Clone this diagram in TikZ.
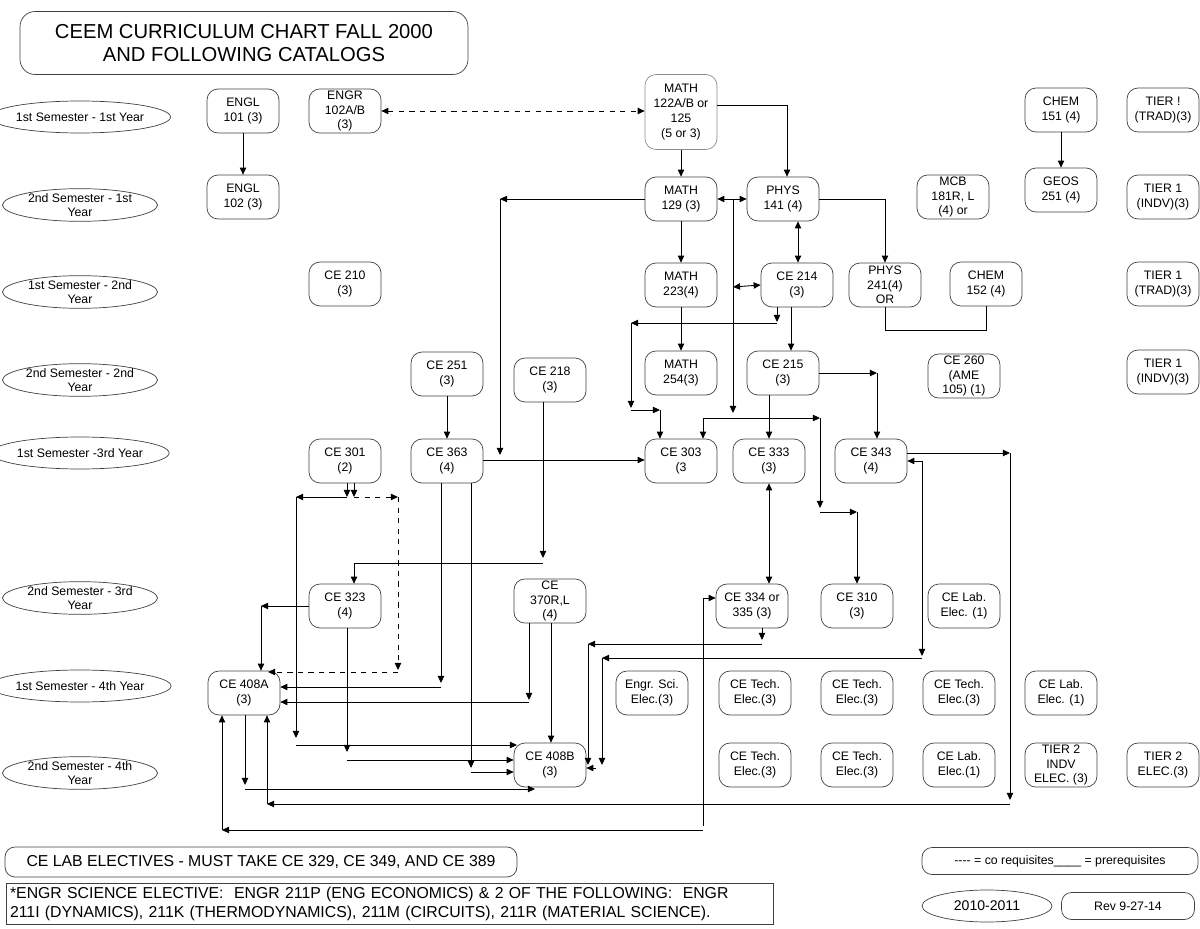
\documentclass[tikz,border=0pt]{standalone}
\usepackage{fontspec}
\setmainfont{Liberation Sans}
\usetikzlibrary{shapes.geometric,arrows.meta}
\tikzset{
  crs/.style={draw=black!75,rounded corners=0.22cm,minimum width=1.44cm,minimum height=0.88cm,
    align=center,inner sep=1pt,font=\fontsize{7}{8.4}\selectfont},
  sem/.style={draw=black!75,ellipse,minimum width=3.1cm,minimum height=0.64cm,inner sep=0pt,
    align=center,font=\fontsize{7}{8}\selectfont},
  pre/.style={-{Triangle[length=4pt,width=3.6pt]},line width=0.5pt},
  both/.style={{Triangle[length=4pt,width=3.6pt]}-{Triangle[length=4pt,width=3.6pt]},line width=0.5pt},
  co/.style={pre,dashed},
}
\begin{document}
\begin{tikzpicture}[x=0.02cm,y=-0.02cm]
\useasboundingbox (0,0) rectangle (1200,929);
% title
\node[draw=black!75,rounded corners=0.3cm,minimum width=8.96cm,minimum height=1.26cm,align=center,
  font=\fontsize{11.5}{13.5}\selectfont] (title) at (244,43) {CEEM CURRICULUM CHART FALL 2000\\AND FOLLOWING CATALOGS};
% semesters
\node[sem] (s1) at (80,117) {1st Semester - 1st Year};
\node[sem] (s2) at (80,205) {2nd Semester - 1st\\Year};
\node[sem] (s3) at (80,292) {1st Semester - 2nd\\Year};
\node[sem] (s4) at (80,380) {2nd Semester - 2nd\\Year};
\node[sem] (s5) at (80,453) {1st Semester -3rd Year};
\node[sem] (s6) at (80,598) {2nd Semester - 3rd\\Year};
\node[sem] (s7) at (80,686) {1st Semester - 4th Year};
\node[sem] (s8) at (80,773) {2nd Semester - 4th\\Year};
% first year
\node[crs] (engl101) at (243,111) {ENGL\\101 (3)};
\node[crs] (engr102) at (345,111) {ENGR\\102A/B\\(3)};
\node[crs,draw=black!45,minimum height=1.5cm] (math122) at (681,112) {MATH\\122A/B or\\125\\(5  or 3)};
\node[crs] (chem151) at (1061,110) {CHEM\\151 (4)};
\node[crs] (tier1a) at (1163,110) {TIER !\\(TRAD)(3)};
\node[crs] (engl102) at (243,197) {ENGL\\102 (3)};
\node[crs] (math129) at (681,199) {MATH\\129 (3)};
\node[crs] (phys141) at (783,199) {PHYS\\141 (4)};
\node[crs] (mcb181) at (953,197) {MCB\\181R, L\\(4) or};
\node[crs] (geos251) at (1061,190) {GEOS\\251 (4)};
\node[crs] (tier1b) at (1163,197) {TIER 1\\(INDV)(3)};
% second year
\node[crs] (ce210) at (345,284) {CE 210\\(3)};
\node[crs] (math223) at (681,285) {MATH\\223(4)};
\node[crs] (ce214) at (797,285) {CE 214\\(3)};
\node[crs] (phys241) at (885,285) {PHYS\\241(4)\\OR};
\node[crs] (chem152) at (986,284) {CHEM\\152 (4)};
\node[crs] (tier1c) at (1163,284) {TIER 1\\(TRAD)(3)};
\node[crs] (ce251) at (447,374) {CE 251\\(3)};
\node[crs] (ce218) at (550,380) {CE 218\\(3)};
\node[crs] (math254) at (681,373) {MATH\\254(3)};
\node[crs] (ce215) at (783,373) {CE 215\\(3)};
\node[crs] (ce260) at (964,376) {CE 260\\(AME\\105) (1)};
\node[crs] (tier1d) at (1163,372) {TIER 1\\(INDV)(3)};
% third year
\node[crs] (ce301) at (345,461) {CE 301\\(2)};
\node[crs] (ce363) at (447,461) {CE 363\\(4)};
\node[crs] (ce303) at (681,461) {CE 303\\(3};
\node[crs] (ce333) at (769,461) {CE 333\\(3)};
\node[crs] (ce343) at (871,461) {CE 343\\(4)};
\node[crs] (ce323) at (345,606) {CE 323\\(4)};
\node[crs] (ce370) at (550,601) {CE\\370R,L\\(4)};
\node[crs] (ce334) at (752,606) {CE 334 or\\335 (3)};
\node[crs] (ce310) at (857,606) {CE 310\\(3)};
\node[crs] (labA) at (964,606) {CE Lab.\\Elec. (1)};
% fourth year
\node[crs] (ce408a) at (244,693) {CE 408A\\(3)};
\node[crs] (esci) at (652,693) {Engr. Sci.\\Elec.(3)};
\node[crs] (techA) at (755,693) {CE Tech.\\Elec.(3)};
\node[crs] (techB) at (857,693) {CE Tech.\\Elec.(3)};
\node[crs] (techC) at (959,693) {CE Tech.\\Elec.(3)};
\node[crs] (labB) at (1061,693) {CE Lab.\\Elec. (1)};
\node[crs] (ce408b) at (550,765) {CE 408B\\(3)};
\node[crs] (techD) at (755,765) {CE Tech.\\Elec.(3)};
\node[crs] (techE) at (857,765) {CE Tech.\\Elec.(3)};
\node[crs] (labC) at (959,765) {CE Lab.\\Elec.(1)};
\node[crs] (tier2a) at (1061,765) {TIER 2\\INDV\\ELEC. (3)};
\node[crs] (tier2b) at (1163,765) {TIER 2\\ELEC.(3)};
% notes
\node[draw=black!75,rounded corners=0.2cm,minimum width=10.24cm,minimum height=0.6cm,
  font=\fontsize{9}{10}\selectfont] (labnote) at (261,862) {CE LAB ELECTIVES - MUST TAKE CE 329, CE 349, AND CE 389};
\node[draw=black!75,text width=15.2cm,minimum height=0.82cm,align=left,inner sep=2pt,
  font=\fontsize{9}{10.5}\selectfont] (scinote) at (390,904) {*ENGR SCIENCE ELECTIVE:\ \ ENGR 211P (ENG ECONOMICS) \& 2 OF THE FOLLOWING:\ \ ENGR\\211I (DYNAMICS), 211K (THERMODYNAMICS), 211M (CIRCUITS), 211R (MATERIAL SCIENCE).};
\node[draw=black!75,rounded corners=0.2cm,minimum width=5.52cm,minimum height=0.54cm,
  font=\fontsize{7}{8}\selectfont] (legend) at (1060,861) {{-}{-}{-}{-} = co requisites\_\_\_\_ = prerequisites};
\node[draw=black!75,ellipse,minimum width=2.6cm,minimum height=0.64cm,
  font=\fontsize{8}{9}\selectfont] (years) at (987,906) {2010-2011};
\node[draw=black!75,rounded corners=0.2cm,minimum width=2.66cm,minimum height=0.54cm,
  font=\fontsize{7}{8}\selectfont] (rev) at (1128,906) {Rev 9-27-14};
% first year links
\draw[pre] (engl101) -- (engl102);
\draw[both,dashed] (engr102.east) -- (math122.west |- engr102.east);
\draw[pre] (math122) -- (math129);
\draw[pre] (math122.east |- 0,105) -| (787,105) -- (phys141.north -| 787,0);
\draw[pre] (chem151) -- (geos251);
% second year links
\draw[pre] (math129) -- (math223);
\draw[pre] (math129.west) -- (500,199);
\draw[pre] (500,199) -- (500,455);
\draw[pre] (ce363.east |- 0,460) -- (ce303.west |- 0,460);
\draw[both] (math129.east) -- (phys141.west);
\draw[pre] (733,199) -- (733,413);
\draw[both] (phys141.south -| 798,0) -- (ce214.north -| 798,0);
\draw[pre] (phys141.east) -| (phys241.north);
\draw[both] (733,287) -- (ce214.west);
\draw[pre] (math223) -- (math254);
\draw[pre] (ce214.south -| 791,0) -- (ce215.north -| 791,0);
\draw (phys241.south) -- (885,330) -| (chem152.south);
\draw[pre] (ce214.south -| 777,0) -- (777,322);
\draw[pre] (777,323) -- (631,323);
\draw[pre] (631,323) -- (631,408);
\draw[pre] (631,410) -- (660,410);
\draw[pre] (660,410) -- (ce303.north -| 660,0);
\draw[pre] (703,418) -- (ce303.north -| 703,0);
\draw[pre] (703,418) -- (820,418);
\draw[pre] (820,418) -- (820,508);
\draw[pre] (820,512) -- (857,512);
\draw[pre] (857,512) -- (ce310.north);
\draw[pre] (ce215.east) -- (877,373);
\draw[pre] (877,373) -- (ce343.north -| 877,0);
\draw[pre] (ce215.south -| 769,0) -- (ce333.north);
\draw[pre] (ce251) -- (ce363);
% third year links
\draw[pre] (ce218.south -| 543,0) -- (543,558);
\draw[pre] (543,563) -- (354,563) -- (ce323.north -| 354,0);
\draw[pre] (ce301.south -| 347,0) -- (347,497);
\draw[pre] (ce301.south -| 354,0) -- (354,497);
\draw[pre] (347,497) -- (296,497);
\draw[pre] (296,497) -- (296,738);
\draw[pre] (296,745) -- (517,745);
\draw[co] (354,497) -- (398,497);
\draw[co] (398,497) -- (398,670);
\draw[co] (398,672) -- (268,672);
\draw[pre] (ce323.west) -- (261,606);
\draw[pre] (261,606) -- (ce408a.north -| 261,0);
\draw[pre] (ce323.south -| 347,0) -- (347,752);
\draw[pre] (347,760) -- (ce408b.west |- 0,760);
\draw[pre] (ce363.south -| 441,0) -- (441,683);
\draw[pre] (441,687) -- (ce408a.east |- 0,687);
\draw[pre] (ce363.south -| 471,0) -- (471,768);
\draw[pre] (471,772) -- (ce408b.west |- 0,772);
\draw[pre] (ce370.south -| 529,0) -- (529,700);
\draw[pre] (529,702) -- (ce408a.east |- 0,702);
\draw[pre] (ce370.south -| 551,0) -- (ce408b.north -| 551,0);
\draw[both] (ce333.south) -- (ce334.north -| ce333.south);
\draw[pre] (703,826) -- (703,598) -- (ce334.west |- 0,598);
\draw[pre] (703,830) -- (222,830);
\draw[pre] (222,830) -- (ce408a.south -| 222,0);
\draw[pre] (ce334.south -| 762,0) -- (762,640);
\draw[pre] (762,644) -- (588,644);
\draw[pre] (588,644) -- (588,765);
\draw[pre] (ce343.east |- 0,453) -- (1010,453);
\draw[pre] (1010,453) -- (1010,800);
\draw[pre] (1010,804) -- (267,804);
\draw[pre] (267,804) -- (ce408a.south -| 267,0);
\draw[both] (ce343.east |- 0,461) -- (922,461) -- (922,656);
\draw[pre] (922,658) -- (602,658);
\draw[pre] (602,658) -- (602,765);
\draw[pre] (596,768) -- (ce408b.east |- 0,768);
\draw[pre] (ce408a.south -| 245,0) -- (245,785);
\draw[pre] (245,789) -- (535,789);
\end{tikzpicture}
\end{document}
